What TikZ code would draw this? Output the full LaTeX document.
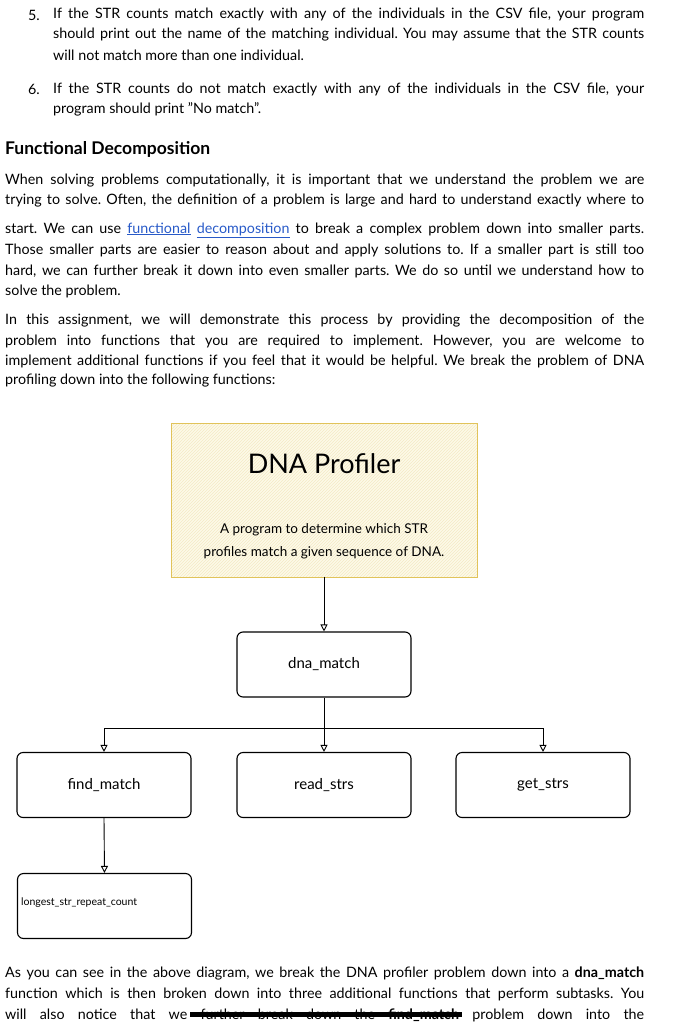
\documentclass[tikz,border=0pt]{standalone}
\usepackage{fontspec}
\setmainfont{Lato}
\usetikzlibrary{patterns,arrows.meta}
\definecolor{linkblue}{RGB}{40,90,200}
\definecolor{boxfill}{RGB}{253,250,232}
\definecolor{boxedge}{RGB}{225,195,90}
\tikzset{
 ln/.style={anchor=west,inner sep=0pt,font=\fontsize{14.3}{16}\selectfont},
 fbox/.style={draw,line width=1.1pt,rounded corners=6pt,minimum width=174pt,minimum height=65pt,font=\fontsize{15}{16}\selectfont},
 arr/.style={-{Triangle[open,length=7pt,width=7pt]},line width=0.9pt}
}
\newcommand{\jl}[1]{\makebox[591pt][s]{#1}}
\newcommand{\jm}[1]{\makebox[639pt][s]{#1}}
\begin{document}
\frenchspacing
\begin{tikzpicture}[x=1pt,y=-1pt]
\useasboundingbox (0,0) rectangle (674,1024);
\node[ln] (n5) at (28,15) {5.};
\node[ln] (t5a) at (53,15) {\jl{If the STR counts match exactly with any of the individuals in the CSV file, your program}};
\node[ln] (t5b) at (53,35) {\jl{should print out the name of the matching individual. You may assume that the STR counts}};
\node[ln] (t5c) at (53,55) {will not match more than one individual.};
\node[ln] (n6) at (28,89) {6.};
\node[ln] (t6a) at (53,89) {\jl{If the STR counts do not match exactly with any of the individuals in the CSV file, your}};
\node[ln] (t6b) at (53,109) {program should print "No match".};
\node[anchor=west,inner sep=0pt,font=\fontsize{17.5}{20}\selectfont\bfseries] (h) at (5,149) {Functional Decomposition};
\node[ln] (p1) at (5,181) {\jm{When solving problems computationally, it is important that we understand the problem we are}};
\node[ln] (p2) at (5,201) {\jm{trying to solve. Often, the definition of a problem is large and hard to understand exactly where to}};
\node[ln] (p3) at (5,230) {\jm{start. We can use \textcolor{linkblue}{\underline{functional}\ \underline{decomposition}} to break a complex problem down into smaller parts.}};
\node[ln] (p4) at (5,250) {\jm{Those smaller parts are easier to reason about and apply solutions to. If a smaller part is still too}};
\node[ln] (p5) at (5,271) {\jm{hard, we can further break it down into even smaller parts. We do so until we understand how to}};
\node[ln] (p6) at (5,291) {solve the problem.};
\node[ln] (q1) at (5,321) {\jm{In this assignment, we will demonstrate this process by providing the decomposition of the}};
\node[ln] (q2) at (5,341) {\jm{problem into functions that you are required to implement. However, you are welcome to}};
\node[ln] (q3) at (5,361) {\jm{implement additional functions if you feel that it would be helpful. We break the problem of DNA}};
\node[ln] (q4) at (5,381) {profiling down into the following functions:};
\path[fill=boxfill] (171,423) rectangle (477,577);
\path[pattern=north east lines,pattern color=boxedge!35] (171,423) rectangle (477,577);
\draw[boxedge,thick] (171,423) rectangle (477,577);
\node[font=\fontsize{27}{28}\selectfont] (title) at (324,464) {DNA Profiler};
\node[font=\fontsize{13.5}{23}\selectfont,align=center] (sub) at (324,541) {A program to determine which STR\\profiles match a given sequence of DNA.};
\coordinate (pb) at (324,577);
\node[fbox] (dm) at (324,664.5) {dna\_match};
\node[fbox] (fm) at (104,785) {find\_match};
\node[fbox] (rs) at (324,785) {read\_strs};
\node[fbox] (gs) at (543,785) {get\_strs};
\node[fbox] (ls) at (104.5,906) {};
\node[font=\fontsize{10.5}{11}\selectfont,anchor=west,inner sep=0pt] (lst) at (21,903) {longest\_str\_repeat\_count};
\draw[arr] (pb) -- (dm.north);
\coordinate (j) at (324,728);
\draw[line width=0.9pt] (dm.south) -- (j);
\draw[arr] (j) -| (fm.north);
\draw[arr] (j) -- (rs.north);
\draw[arr] (j) -| (gs.north);
\draw[arr] (fm.south) -- (ls.north);
\node[ln] (r1) at (5,973) {\jm{As you can see in the above diagram, we break the DNA profiler problem down into a \textbf{dna\_match}}};
\node[ln] (r2) at (5,994) {\jm{function which is then broken down into three additional functions that perform subtasks. You}};
\node[ln] (r3) at (5,1015) {\jm{will also notice that we further break down the \textbf{find\_match} problem down into the}};
\draw[line width=5pt] (190,1014) -- (462,1014);
\end{tikzpicture}
\end{document}
